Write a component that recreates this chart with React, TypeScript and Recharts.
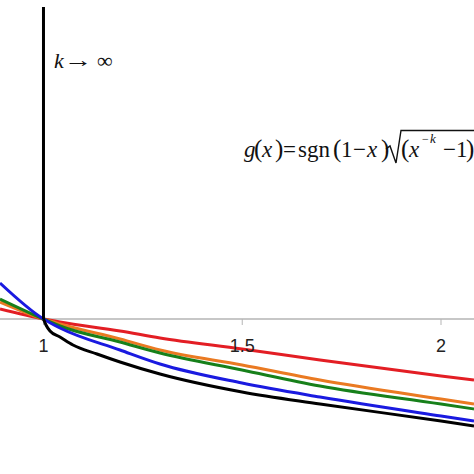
import React from 'react';
import { LineChart, Line, XAxis, YAxis, ReferenceLine, ReferenceDot } from 'recharts';

// x positions shared by the coloured curves
const xValues = [0.8906, 1, 1.0415, 1.1925, 1.2931, 1.4994, 1.6956, 2.0, 2.083];
const redValues = [0.10, 0, -0.03, -0.12, -0.19, -0.30, -0.41, -0.57, -0.61];
const orangeValues = [0.17, 0, -0.05, -0.20, -0.31, -0.46, -0.61, -0.80, -0.85];
const greenValues = [0.20, 0, -0.07, -0.23, -0.34, -0.51, -0.67, -0.85, -0.90];
const blueValues = [0.36, 0, -0.09, -0.31, -0.45, -0.64, -0.78, -0.97, -1.02];

// k -> infinity curve
const blackX = [1, 1.0063, 1.0164, 1.0415, 1.0742, 1.1346, 1.1925, 1.2931, 1.4994, 1.6956, 2.0, 2.083];
const blackValues = [0, -0.06, -0.12, -0.18, -0.26, -0.35, -0.43, -0.55, -0.73, -0.85, -1.02, -1.07];
const blackVerticalX = [1, 1];
const blackVerticalValues = [3.12, 0];

const xTicks = [1, 1.5, 2];
const xTickLabels = ['1', '1.5', '2'];

const xDomain = [0.8906, 2.083];
const yDomain = [-1.55, 3.19];

const toData = (xs: number[], ys: number[]) => xs.map((x, i) => ({ x, y: ys[i] }));

const series = [
  { name: 'red', values: redValues, color: '#e31e24' },
  { name: 'orange', values: orangeValues, color: '#ea7a22' },
  { name: 'green', values: greenValues, color: '#17801a' },
  { name: 'blue', values: blueValues, color: '#1a1ae0' },
];

const serif = '"Liberation Serif", "Times New Roman", serif';

export default function App() {
  return (
    <div style={{ position: 'absolute', left: 0, top: 0, width: 474, height: 474, background: '#fff' }}>
      <LineChart width={474} height={474} margin={{ top: 0, right: 0, bottom: 0, left: 0 }}>
        <XAxis type="number" dataKey="x" domain={xDomain} allowDataOverflow hide />
        <YAxis type="number" dataKey="y" domain={yDomain} allowDataOverflow hide />
        <ReferenceLine y={0} stroke="#b5b5b5" strokeWidth={1.5} />
        {xTicks.map((t) => (
          <ReferenceLine
            key={'tick' + t}
            segment={[{ x: t, y: 0 }, { x: t, y: -0.06 }]}
            stroke="#b5b5b5"
            strokeWidth={1}
          />
        ))}
        {xTicks.map((t, i) => (
          <ReferenceDot
            key={'lbl' + t}
            x={t}
            y={0}
            r={0}
            fill="none"
            stroke="none"
            label={{
              value: xTickLabels[i],
              position: 'bottom',
              offset: 20,
              fill: '#222',
              fontSize: 18,
              fontFamily: '"Liberation Sans", Arial, sans-serif',
            }}
          />
        ))}
        {series.map((s) => (
          <Line
            key={s.name}
            data={toData(xValues, s.values)}
            dataKey="y"
            type="monotone"
            stroke={s.color}
            strokeWidth={3}
            dot={false}
            activeDot={false}
            isAnimationActive={false}
          />
        ))}
        <Line
          data={toData(blackX, blackValues)}
          dataKey="y"
          type="monotone"
          stroke="#000"
          strokeWidth={3}
          dot={false}
          activeDot={false}
          isAnimationActive={false}
        />
        <Line
          data={toData(blackVerticalX, blackVerticalValues)}
          dataKey="y"
          type="linear"
          stroke="#000"
          strokeWidth={3}
          dot={false}
          activeDot={false}
          isAnimationActive={false}
        />
      </LineChart>
      <svg
        width={474}
        height={474}
        style={{ position: 'absolute', left: 0, top: 0, pointerEvents: 'none' }}
      >
        <g fontFamily={serif} fill="#111">
          <text x={54} y={68} fontSize={22} fontStyle="italic">k</text>
          <text transform="translate(64,67) scale(1.3,1)" x={0} y={0} fontSize={22}>→</text>
          <text x={97} y={68} fontSize={22}>∞</text>
        </g>
        <g fontFamily={serif} fill="#111" fontSize={23}>
          <text x={244} y={157} fontStyle="italic">g</text>
          <text x={254} y={157} fontSize={25}>(</text>
          <text x={262} y={157} fontStyle="italic">x</text>
          <text x={275} y={157} fontSize={25}>)</text>
          <text x={283} y={157}>=</text>
          <text x={298} y={157}>sgn</text>
          <text x={333} y={157} fontSize={25}>(</text>
          <text x={341} y={157}>1</text>
          <text x={353} y={157}>−</text>
          <text x={367} y={157} fontStyle="italic">x</text>
          <text x={381} y={157} fontSize={25}>)</text>
          <path
            d="M386 149 L390 146 L396 163 L401 130.5 L474 130.5"
            fill="none"
            stroke="#111"
            strokeWidth={1.4}
          />
          <text x={401} y={157} fontSize={25}>(</text>
          <text x={409} y={157} fontStyle="italic">x</text>
          <text x={422} y={143} fontSize={12}>−</text>
          <text x={430} y={143} fontSize={13} fontStyle="italic">k</text>
          <text x={443} y={157}>−</text>
          <text x={456} y={157}>1</text>
          <text x={466} y={157} fontSize={25}>)</text>
        </g>
      </svg>
    </div>
  );
}
